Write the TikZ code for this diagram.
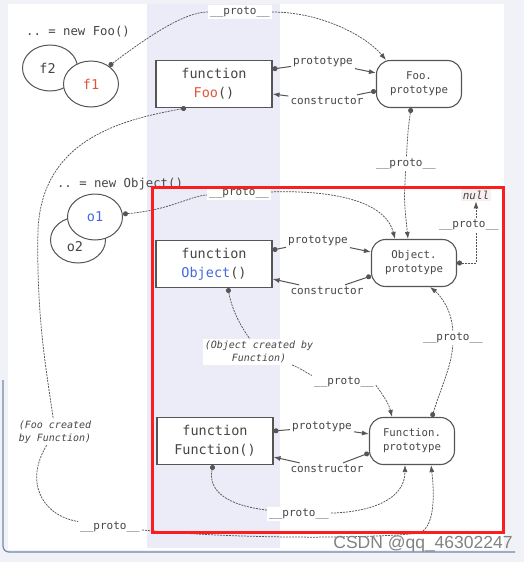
\documentclass[tikz,border=0pt]{standalone}
\usepackage{fontspec}
\setmonofont{DejaVu Sans Mono}
\newfontfamily\marksans{Liberation Sans}
\usepackage{tikz}
\usetikzlibrary{shapes.geometric,arrows.meta,positioning,calc}
\usepackage{xcolor}
\definecolor{inkgray}{RGB}{70,70,70}
\definecolor{linegray}{RGB}{85,85,85}
\definecolor{foored}{RGB}{226,85,60}
\definecolor{objblue}{RGB}{70,105,220}
\definecolor{bandlav}{RGB}{236,236,248}
\definecolor{pagegray}{RGB}{241,242,247}
\definecolor{edgeblue}{RGB}{110,135,170}
\definecolor{framered}{RGB}{250,30,30}
\definecolor{nullpink}{RGB}{248,240,240}
\definecolor{markgray}{RGB}{130,130,130}
\tikzset{
    funcbox/.style={
        rectangle,
        draw=linegray,
        line width=1.1pt,
        fill=white,
        minimum width=116pt,
        minimum height=47pt,
        align=center,
        text=inkgray,
        font=\ttfamily\fontsize{13.5}{19}\selectfont
    },
    protobox/.style={
        rectangle,
        rounded corners=14pt,
        draw=linegray,
        line width=1.1pt,
        fill=white,
        minimum width=85pt,
        minimum height=47pt,
        align=center,
        text=inkgray,
        font=\ttfamily\fontsize{10.7}{14}\selectfont
    },
    instance/.style={
        ellipse,
        draw=linegray,
        line width=1pt,
        fill=white,
        minimum width=55pt,
        minimum height=46pt,
        text=inkgray,
        font=\ttfamily\fontsize{13.5}{16}\selectfont
    },
    linklabel/.style={
        fill=white,
        inner sep=2pt,
        text=inkgray,
        font=\ttfamily\fontsize{11}{13}\selectfont
    },
    notelabel/.style={
        linklabel,
        align=center,
        font=\ttfamily\itshape\fontsize{10}{12.5}\selectfont
    },
    protolink/.style={
        draw=linegray,
        line width=0.75pt,
        dash pattern=on 2pt off 1pt
    },
    assoc/.style={
        draw=linegray,
        line width=1pt
    },
    tail/.style={{Circle[length=5pt]}-},
    head/.style={-{Latex[length=7pt,width=5pt]}}
}

\begin{document}
\begin{tikzpicture}[x=1pt,y=-1pt,font=\ttfamily]
        % Page and background band
        \useasboundingbox (0,0) rectangle (524,562);
        \fill[pagegray] (0,0) rectangle (524,562);
        \fill[white] (8,4) rectangle (504,550);
        \fill[bandlav] (147,4) rectangle (280,548);
        \draw[edgeblue, line width=1.2pt] (3,380) -- (3,546) to[out=-90,in=180] (9,552) -- (515,552);

        % Instances
        \node[text=inkgray, font=\ttfamily\fontsize{12.3}{14}\selectfont] (newfoo) at (78,32) {.. = new Foo()};
        \node[instance] (f2) at (50,68) {\hspace*{-5pt}f2};
        \node[instance, text=foored] (f1) at (91,84) {f1};
        \node[text=inkgray, font=\ttfamily\fontsize{12.3}{14}\selectfont] (newobj) at (120,184) {.. = new Object()};
        \node[instance] (o2) at (78,240) {\hspace*{-6pt}\raisebox{-11pt}[0pt][0pt]{o2}};
        \node[instance, text=objblue] (o1) at (95,217) {o1};

        % Constructor functions
        \node[funcbox] (foofn) at (214,84) {function\\\textcolor{foored}{Foo}()};
        \node[funcbox] (objfn) at (214,264) {function\\\textcolor{objblue}{Object}()};
        \node[funcbox] (funfn) at (215,441) {function\\Function()};

        % Prototype objects
        \node[protobox] (fooproto) at (419,84) {Foo.\\prototype};
        \node[protobox] (objproto) at (414,263) {Object.\\prototype};
        \node[protobox] (funproto) at (412,441) {Function.\\prototype};
        \node[linklabel, fill=nullpink, font=\ttfamily\itshape\fontsize{11}{13}\selectfont] (nullval) at (476,195) {null};

        % Link labels
        \node[linklabel] (ptop) at (240,12) {\_\_proto\_\_};
        \node[linklabel] (pfoo) at (323,62) {prototype};
        \node[linklabel] (cfoo) at (327,101) {constructor};
        \node[linklabel] (pfooproto) at (406,164) {\_\_proto\_\_};
        \node[linklabel] (pobjinst) at (239,193) {\_\_proto\_\_};
        \node[linklabel] (pnull) at (469,225) {\_\_proto\_\_};
        \node[linklabel] (pobj) at (318,241) {prototype};
        \node[linklabel] (cobj) at (327,291) {constructor};
        \node[notelabel] (objnote) at (259,352) {(Object created by\\Function)};
        \node[linklabel] (pobjfun) at (344,382) {\_\_proto\_\_};
        \node[linklabel] (pfunobj) at (453,338) {\_\_proto\_\_};
        \node[linklabel] (pfun) at (322,427) {prototype};
        \node[linklabel] (cfun) at (327,469) {constructor};
        \node[linklabel] (pfunfun) at (299,514) {\_\_proto\_\_};
        \node[notelabel] (foonote) at (55,432) {(Foo created\\by Function)};
        \node[linklabel] (pfoofun) at (110,527) {\_\_proto\_\_};
        \coordinate (foodrop) at (38,230);
        \coordinate (foofloor) at (420,533);

        % prototype / constructor pairs
        \draw[assoc, tail] ([yshift=15pt]foofn.east) -- (pfoo);
        \draw[assoc, head] (pfoo) -- ([yshift=11pt]fooproto.west);
        \draw[assoc, tail] ([yshift=-7pt]fooproto.west) -- (cfoo);
        \draw[assoc, head] (cfoo) -- ([yshift=-10pt]foofn.east);
        \draw[assoc, tail] ([yshift=14pt]objfn.east) -- (pobj);
        \draw[assoc, head] (pobj) -- ([yshift=11pt]objproto.west);
        \draw[assoc, tail] ([yshift=-13pt]objproto.west) -- (cobj);
        \draw[assoc, head] (cobj) -- ([yshift=-15pt]objfn.east);
        \draw[assoc, tail] ([yshift=10pt]funfn.east) -- (pfun);
        \draw[assoc, head] (pfun) -- ([yshift=7pt]funproto.west);
        \draw[assoc, tail] ([yshift=-12pt]funproto.west) -- (cfun);
        \draw[assoc, head] (cfun) -- ([yshift=-16pt]funfn.east);

        % __proto__ chain
        \draw[protolink, tail] (f1.45) .. controls (150,35) and (185,12) .. (ptop);
        \draw[protolink, head] (ptop) .. controls (320,12) and (365,35) .. ([xshift=-33pt]fooproto.north);
        \draw[protolink, tail] ([xshift=-8pt]fooproto.south) .. controls (408,130) .. (pfooproto);
        \draw[protolink, head] (pfooproto) .. controls (404,200) .. ([xshift=-6pt]objproto.north);
        \draw[protolink, tail] ([yshift=3pt]o1.east) .. controls (170,210) and (190,196) .. (pobjinst);
        \draw[protolink, head] (pobjinst) .. controls (330,190) and (385,200) .. ([xshift=-19pt]objproto.north);
        \draw[protolink, tail] (objproto.east) -| ([xshift=7pt]pnull.south);
        \draw[protolink, head] ([xshift=7pt]pnull.north) -- (nullval.south);
        \draw[protolink, tail] ([xshift=14pt]objfn.south) .. controls (232,310) and (240,325) .. (objnote);
        \draw[protolink] (objnote) .. controls (300,368) and (310,375) .. (pobjfun);
        \draw[protolink, head] (pobjfun) .. controls (375,385) and (388,400) .. ([xshift=-20pt]funproto.north);
        \draw[protolink, tail] ([xshift=20pt]funproto.north) .. controls (440,390) and (452,365) .. (pfunobj);
        \draw[protolink, head] (pfunobj) .. controls (452,310) and (440,295) .. ([xshift=16pt]objproto.south);
        \draw[protolink, tail] ([xshift=-2pt]funfn.south) .. controls (208,490) and (225,505) .. (pfunfun);
        \draw[protolink, head] (pfunfun) .. controls (370,512) and (405,500) .. ([xshift=-7pt]funproto.south);
        \draw[protolink, tail] ([xshift=-28pt]foofn.south) .. controls (120,120) and (42,140) .. (foodrop) .. controls (36,320) and (48,380) .. (foonote);
        \draw[protolink] (foonote) .. controls (25,480) and (40,515) .. (pfoofun);
        \draw[protolink, head] (pfoofun) .. controls (250,540) and (380,538) .. (foofloor) .. controls (436,525) and (434,490) .. ([xshift=19pt]funproto.south);

        % Highlight frame and watermark
        \draw[framered, line width=3pt] (152,187) rectangle (503,532);
        \node[text=markgray, font=\marksans\fontsize{17.5}{20}\selectfont] (mark) at (423,544) {CSDN @qq\_46302247};
    \end{tikzpicture}
\end{document}
